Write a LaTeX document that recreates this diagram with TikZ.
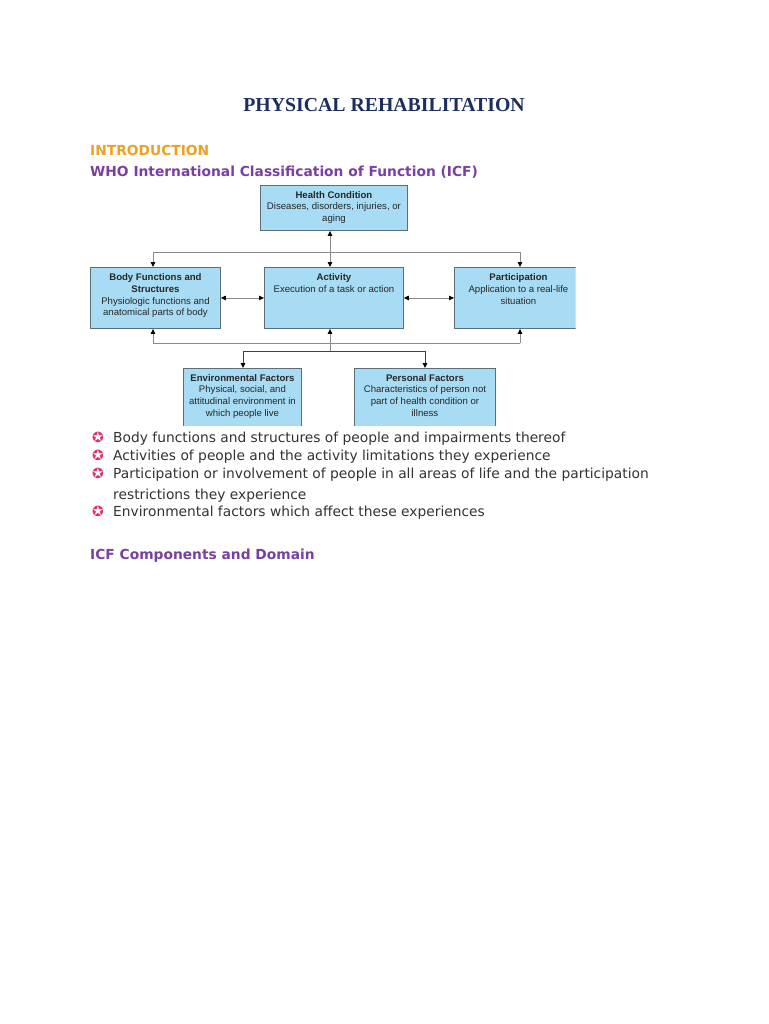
\documentclass[tikz,border=0pt]{standalone}
\usepackage{fontspec}
\setmainfont{DejaVu Sans}
\newfontfamily\arialf{Liberation Sans}
\newfontfamily\timesf{Liberation Serif}
\newfontfamily\djv{DejaVu Sans}
\usetikzlibrary{arrows.meta,calc}
\definecolor{boxblue}{HTML}{A8DCF4}
\definecolor{boxedge}{HTML}{5E6E76}
\definecolor{navy}{HTML}{1B2E5E}
\definecolor{orng}{HTML}{F0A020}
\definecolor{purp}{HTML}{7A3FA0}
\definecolor{pinkc}{HTML}{E0306A}
\definecolor{linegray}{HTML}{8A8A8A}
\begin{document}
\begin{tikzpicture}[x=1pt,y=-1pt,
 box/.style={fill=boxblue,draw=boxedge,line width=0.9pt,anchor=north west,inner sep=0pt},
 boxtext/.style={font=\arialf\fontsize{9.6}{11.7}\selectfont,align=center,anchor=north,inner sep=0pt,text=black!85},
 conn/.style={draw=linegray,line width=0.9pt},
 arr/.style={conn,-{Triangle[length=5pt,width=4.5pt,color=black]}},
 darr/.style={conn,{Triangle[length=5pt,width=4.5pt,color=black]}-{Triangle[length=5pt,width=4.5pt,color=black]}},
 bultext/.style={anchor=base west,inner sep=0pt,font=\djv\fontsize{13.8}{16}\selectfont,text=black!80},
 ico/.style={anchor=center,inner sep=0pt,font=\djv\fontsize{14}{16}\selectfont,text=pinkc},
 head/.style={anchor=base west,inner sep=0pt,font=\djv\bfseries\fontsize{13.8}{16}\selectfont},
]
\path[fill=white] (0,0) rectangle (768,1024);

\node[anchor=base,inner sep=0pt,font=\timesf\bfseries\fontsize{19.8}{22}\selectfont,text=navy] (title) at (384,111.5) {PHYSICAL REHABILITATION};
\node[head,text=orng] (intro) at (90,156) {INTRODUCTION};
\node[head,text=purp] (who) at (90,177) {WHO International Classification of Function (ICF)};

\begin{scope}
\clip (89,183) rectangle (575.5,425);
\node[box,minimum width=147,minimum height=45] (hc) at (260,185) {};
\node[box,minimum width=130,minimum height=61] (bf) at (90,267) {};
\node[box,minimum width=139,minimum height=61] (act) at (264,267) {};
\node[box,minimum width=128,minimum height=61] (pa) at (454,267) {};
\node[box,minimum width=118,minimum height=65] (ef) at (183,368) {};
\node[box,minimum width=141,minimum height=65] (pf) at (354,368) {};
\end{scope}

\node[boxtext] (hct) at ($(hc.north)+(0,6)$) {\bfseries Health Condition\\Diseases, disorders, injuries, or\\aging};
\node[boxtext] (bft) at ($(bf.north)+(0,6.5)$) {\bfseries Body Functions and\\\bfseries Structures\\Physiologic functions and\\anatomical parts of body};
\node[boxtext] (actt) at ($(act.north)+(0,6.5)$) {\bfseries Activity\\Execution of a task or action};
\node[boxtext] (pat) at ($(pa.north)+(0,6.5)$) {\bfseries Participation\\Application to a real-life\\situation};
\node[boxtext] (eft) at ($(ef.north)+(0,6)$) {\bfseries Environmental Factors\\Physical, social, and\\attitudinal environment in\\which people live};
\node[boxtext] (pft) at ($(pf.north)+(0,6)$) {\bfseries Personal Factors\\Characteristics of person not\\part of health condition or\\illness};

% connectors
\coordinate (vx) at (330,0);
\coordinate (tl) at (153,252);
\coordinate (tr) at (520,252);
\coordinate (bl) at (153,343);
\coordinate (br) at (520,343);
\coordinate (el) at (243,351);
\coordinate (er) at (425,351);
\draw[conn] (tl) -- (tr);
\draw[arr] (tl) -- (tl |- bf.north);
\draw[arr] (tr) -- (tr |- pa.north);
\draw[darr] (vx |- hc.south) -- (vx |- act.north);
\draw[darr] (bf.east) -- (act.west);
\draw[darr] (act.east) -- (pa.west);
\draw[conn] (bl) -- (br);
\draw[arr] (bl) -- (bl |- bf.south);
\draw[arr] (br) -- (br |- pa.south);
\draw[arr] (vx |- el) -- (vx |- act.south);
\draw[conn,draw=black!75] (el) -- (er);
\draw[arr,draw=black!75] (el) -- (el |- ef.north);
\draw[arr,draw=black!75] (er) -- (er |- pf.north);

% bullets
\node[ico] (i1) at (98,437.5) {✪};
\node[bultext] (b1) at (113,442) {Body functions and structures of people and impairments thereof};
\node[ico] (i2) at (98,455.5) {✪};
\node[bultext] (b2) at (113,460) {Activities of people and the activity limitations they experience};
\node[ico] (i3) at (98,473.5) {✪};
\node[bultext] (b3) at (113,478) {Participation or involvement of people in all areas of life and the participation};
\node[bultext] (b3b) at (113,499) {restrictions they experience};
\node[ico] (i4) at (98,511.5) {✪};
\node[bultext] (b4) at (113,516) {Environmental factors which affect these experiences};

\node[head,text=purp] (icf) at (90,559) {ICF Components and Domain};
\end{tikzpicture}
\end{document}
